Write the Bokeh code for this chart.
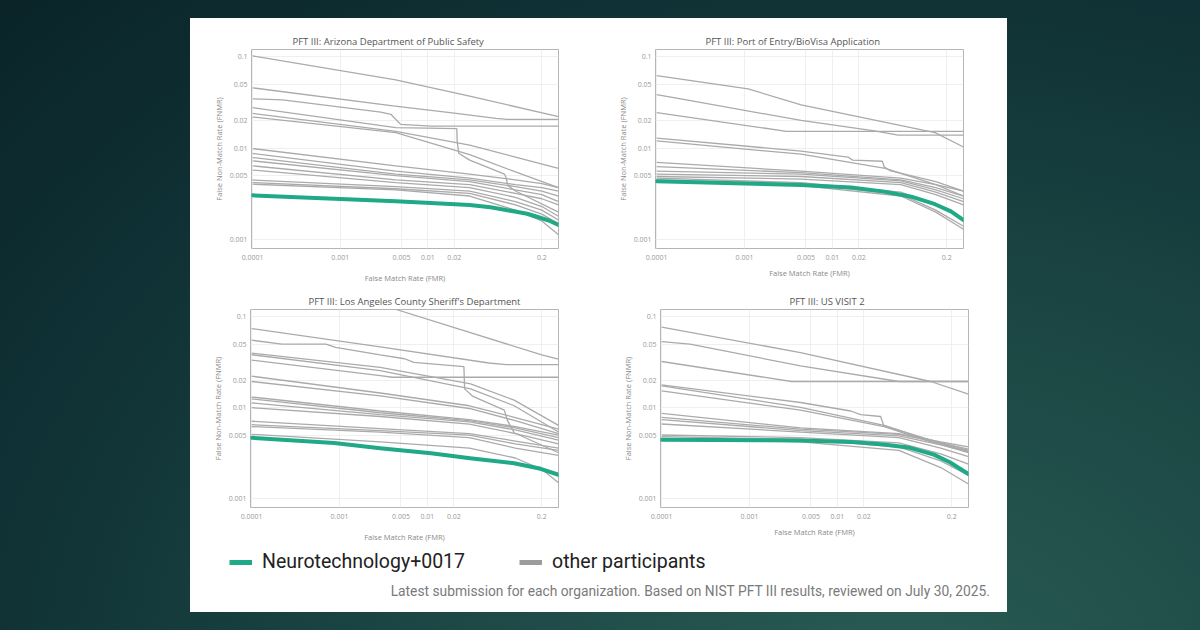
import numpy as np
from bokeh.plotting import figure
from bokeh.layouts import column, row
from bokeh.models import (Range1d, FixedTicker, CustomJSTickFormatter, Spacer,
                          Legend, LegendItem, Label)
from bokeh.embed import file_html
from bokeh.resources import INLINE

# ---------------- data ----------------
X_TICKS = [1e-4, 1e-3, 5e-3, 0.01, 0.02, 0.2]
X_LABELS = ["0.0001", "0.001", "0.005", "0.01", "0.02", "0.2"]
Y_TICKS = [0.001, 0.005, 0.01, 0.02, 0.05, 0.1]
Y_LABELS = ["0.001", "0.005", "0.01", "0.02", "0.05", "0.1"]
X_TITLE = "False Match Rate (FMR)"
Y_TITLE = "False Non-Match Rate (FNMR)"
LEGEND_LABELS = ["Neurotechnology+0017", "other participants"]
FOOTNOTE = ("Latest submission for each organization. Based on NIST PFT III results, "
            "reviewed on July 30, 2025.")

TITLES = ["PFT III: Arizona Department of Public Safety",
          "PFT III: Port of Entry/BioVisa Application",
          "PFT III: Los Angeles County Sheriff's Department",
          "PFT III: US VISIT 2"]

# each curve: list of (FMR, FNMR) points
AZ_NEURO = [(1e-4, 0.00305), (0.0043, 0.00263), (0.0108, 0.00252), (0.03, 0.00239),
            (0.052, 0.00226), (0.095, 0.00204), (0.136, 0.00192), (0.176, 0.00178),
            (0.24, 0.00162), (0.31, 0.00145)]
AZ_OTHERS = [
    [(1e-4, 0.102), (0.0043, 0.0558), (0.03, 0.037), (0.31, 0.0222)],
    [(1e-4, 0.0457), (0.004, 0.029), (0.02, 0.0242), (0.06, 0.0212), (0.08, 0.0207), (0.31, 0.0207)],
    [(1e-4, 0.0347), (2.2e-4, 0.0338), (0.0029, 0.0248), (0.0038, 0.0234), (0.0049, 0.0182),
     (0.011, 0.0174), (0.31, 0.0174)],
    [(1e-4, 0.0277), (0.0043, 0.0168), (0.0214, 0.0164), (0.0216, 0.012), (0.0225, 0.0088),
     (0.03, 0.0074), (0.075, 0.0052), (0.078, 0.0048), (0.082, 0.0039), (0.1, 0.0034), (0.31, 0.0020)],
    [(1e-4, 0.024), (0.0043, 0.0153), (0.03, 0.0108), (0.1, 0.008), (0.31, 0.006)],
    [(1e-4, 0.0219), (0.0043, 0.0148), (0.03, 0.0085), (0.1, 0.0055), (0.31, 0.0037)],
    [(1e-4, 0.0099), (0.0043, 0.0064), (0.03, 0.0052), (0.1, 0.0045), (0.2, 0.0041), (0.31, 0.0037)],
    [(1e-4, 0.00875), (0.0043, 0.0056), (0.03, 0.0047), (0.1, 0.0040), (0.2, 0.0037), (0.31, 0.0034)],
    [(1e-4, 0.0079), (0.0043, 0.0052), (0.03, 0.0045), (0.1, 0.0038), (0.2, 0.0034), (0.31, 0.0030)],
    [(1e-4, 0.00727), (0.0043, 0.0050), (0.03, 0.0043), (0.1, 0.0035), (0.2, 0.0031), (0.31, 0.0026)],
    [(1e-4, 0.00641), (0.0043, 0.0045), (0.03, 0.0040), (0.1, 0.0032), (0.2, 0.0028), (0.31, 0.0024)],
    [(1e-4, 0.00576), (0.0043, 0.0042), (0.03, 0.0037), (0.1, 0.0029), (0.2, 0.0023), (0.31, 0.0018)],
    [(1e-4, 0.00449), (0.0043, 0.0038), (0.03, 0.0034), (0.1, 0.0026), (0.2, 0.0021), (0.31, 0.00164)],
    [(1e-4, 0.00421), (0.0043, 0.0036), (0.03, 0.0032), (0.1, 0.0024), (0.2, 0.0019), (0.31, 0.0015)],
    [(1e-4, 0.00404), (0.0043, 0.0035), (0.03, 0.0030), (0.1, 0.0021), (0.2, 0.0016), (0.31, 0.00113)],
]

POE_NEURO = [(1e-4, 0.00435), (0.0044, 0.00396), (0.0164, 0.00371), (0.039, 0.00335),
             (0.079, 0.00295), (0.147, 0.00244), (0.223, 0.00204), (0.31, 0.00164)]
POE_OTHERS = [
    [(1e-4, 0.0622), (0.0011, 0.0445), (0.0044, 0.0298), (0.147, 0.0148), (0.31, 0.0103)],
    [(1e-4, 0.0386), (2.1e-4, 0.034), (0.0044, 0.0201), (0.03, 0.0155), (0.056, 0.0139), (0.31, 0.0139)],
    [(1e-4, 0.0245), (0.003, 0.0153), (0.31, 0.0153)],
    [(1e-4, 0.0129), (0.0044, 0.0093), (0.015, 0.0080), (0.017, 0.0074), (0.037, 0.0072),
     (0.039, 0.0062), (0.045, 0.0057), (0.15, 0.0043), (0.31, 0.0034)],
    [(1e-4, 0.0120), (0.0044, 0.0086), (0.04, 0.0060), (0.15, 0.0040), (0.31, 0.0030)],
    [(1e-4, 0.0070), (0.0044, 0.0056), (0.06, 0.0047), (0.15, 0.0040), (0.31, 0.0034)],
    [(1e-4, 0.0063), (0.0044, 0.0054), (0.06, 0.0045), (0.15, 0.0037), (0.31, 0.0030)],
    [(1e-4, 0.0056), (0.0044, 0.0052), (0.06, 0.0044), (0.15, 0.0035), (0.31, 0.0028)],
    [(1e-4, 0.0052), (0.0044, 0.0049), (0.06, 0.0042), (0.15, 0.0033), (0.31, 0.0026)],
    [(1e-4, 0.0049), (0.0044, 0.0046), (0.06, 0.0040), (0.15, 0.0031), (0.31, 0.0024)],
    [(1e-4, 0.0047), (0.0044, 0.0042), (0.06, 0.0033), (0.15, 0.0024), (0.31, 0.0017)],
    [(1e-4, 0.0045), (0.0044, 0.0041), (0.06, 0.0031), (0.15, 0.0021), (0.31, 0.0014)],
    [(1e-4, 0.0044), (0.0044, 0.0039), (0.06, 0.0030), (0.15, 0.0020), (0.31, 0.0013)],
]

LA_NEURO = [(1e-4, 0.00467), (8.7e-4, 0.0041), (0.0029, 0.00358), (0.011, 0.00315),
            (0.0305, 0.00278), (0.097, 0.00245), (0.194, 0.00213), (0.31, 0.00183)]
LA_OTHERS = [
    [(1e-4, 0.37), (0.0044, 0.12), (0.2, 0.038), (0.31, 0.0342)],
    [(1e-4, 0.074), (0.0029, 0.0467), (0.05, 0.031), (0.079, 0.0297), (0.31, 0.0297)],
    [(1e-4, 0.0552), (2.2e-4, 0.050), (7e-4, 0.050), (9e-4, 0.046), (0.0029, 0.038),
     (0.0055, 0.0345), (0.007, 0.0315), (0.026, 0.0283), (0.0265, 0.0161), (0.033, 0.0133),
     (0.075, 0.0094), (0.081, 0.0073), (0.097, 0.0053), (0.31, 0.0032)],
    [(1e-4, 0.0398), (0.0029, 0.0278), (0.031, 0.0183), (0.097, 0.0121), (0.31, 0.0064)],
    [(1e-4, 0.0382), (0.0029, 0.0256), (0.031, 0.0161), (0.097, 0.0105), (0.31, 0.0054)],
    [(1e-4, 0.0334), (0.0029, 0.0225), (0.004, 0.0216), (0.31, 0.0216)],
    [(1e-4, 0.0222), (0.0029, 0.0145), (0.03, 0.0105), (0.1, 0.0078), (0.31, 0.0058)],
    [(1e-4, 0.0194), (0.0029, 0.0135), (0.03, 0.0098), (0.1, 0.0072), (0.31, 0.0052)],
    [(1e-4, 0.0131), (0.0029, 0.0092), (0.03, 0.0074), (0.1, 0.0062), (0.31, 0.0050)],
    [(1e-4, 0.0125), (0.0029, 0.0088), (0.03, 0.0072), (0.1, 0.0060), (0.31, 0.0047)],
    [(1e-4, 0.0113), (0.0029, 0.0084), (0.03, 0.0070), (0.1, 0.0057), (0.31, 0.0044)],
    [(1e-4, 0.0100), (0.0029, 0.0080), (0.03, 0.0066), (0.1, 0.0052), (0.31, 0.0040)],
    [(1e-4, 0.0071), (0.0029, 0.0059), (0.03, 0.0052), (0.1, 0.0043), (0.31, 0.0036)],
    [(1e-4, 0.0065), (0.0029, 0.0056), (0.03, 0.0050), (0.1, 0.0040), (0.31, 0.0034)],
    [(1e-4, 0.0062), (0.0029, 0.0054), (0.03, 0.0047), (0.1, 0.0036), (0.31, 0.0030)],
    [(1e-4, 0.0051), (0.0029, 0.0042), (0.03, 0.0036), (0.1, 0.0028), (0.2, 0.0021), (0.31, 0.0015)],
]

USV_NEURO = [(1e-4, 0.00445), (0.0038, 0.00435), (0.0142, 0.00421), (0.0336, 0.00393),
             (0.067, 0.00362), (0.125, 0.00305), (0.19, 0.00251), (0.31, 0.00187)]
USV_OTHERS = [
    [(1e-4, 0.077), (0.0038, 0.0403), (0.115, 0.0194), (0.31, 0.0141)],
    [(1e-4, 0.0532), (2.1e-4, 0.050), (0.0038, 0.0288), (0.05, 0.0194), (0.31, 0.0194)],
    [(1e-4, 0.0322), (0.003, 0.0194), (0.31, 0.0194)],
    [(1e-4, 0.0178), (0.0038, 0.0114), (0.0142, 0.0092), (0.0184, 0.0084), (0.031, 0.0080),
     (0.0336, 0.0064), (0.1, 0.0046), (0.31, 0.0034)],
    [(1e-4, 0.0174), (0.0038, 0.0101), (0.034, 0.0064), (0.1, 0.0045), (0.31, 0.0033)],
    [(1e-4, 0.0153), (0.0038, 0.0094), (0.034, 0.0062), (0.1, 0.0044), (0.31, 0.0032)],
    [(1e-4, 0.00868), (0.0038, 0.0060), (0.05, 0.0052), (0.15, 0.0042), (0.31, 0.0037)],
    [(1e-4, 0.00784), (0.0038, 0.0058), (0.05, 0.0051), (0.15, 0.0041), (0.31, 0.0035)],
    [(1e-4, 0.00739), (0.0038, 0.0056), (0.05, 0.0049), (0.15, 0.0039), (0.31, 0.0033)],
    [(1e-4, 0.00662), (0.0038, 0.0054), (0.05, 0.0047), (0.15, 0.0036), (0.31, 0.0029)],
    [(1e-4, 0.00501), (0.0038, 0.0047), (0.05, 0.0041), (0.15, 0.0031), (0.31, 0.0024)],
    [(1e-4, 0.0048), (0.0038, 0.0045), (0.05, 0.0037), (0.15, 0.0026), (0.31, 0.0018)],
    [(1e-4, 0.00461), (0.0038, 0.0042), (0.05, 0.0034), (0.15, 0.0022), (0.31, 0.00145)],
]

# ---------------- style ----------------
GREEN = "#1fa986"
GREY = "#aaaaaa"
FONT = "Open Sans"
GRADIENT = ("radial-gradient(ellipse at 75% 110%, #2a5c55 0%, #1b4643 40%, #0f3034 75%, #0a2428 100%)")


def log_formatter(tvals, tlabs):
    return CustomJSTickFormatter(args=dict(tvals=tvals, tlabs=tlabs), code="""
        for (let i = 0; i < tvals.length; i++) {
            if (Math.abs(Math.log10(tick) - Math.log10(tvals[i])) < 1e-6) { return tlabs[i]; }
        }
        return "";
    """)


def make_panel(title, neuro, others, width, height, bl, br, bt, bb, title_offset, xstand):
    p = figure(width=width, height=height, x_axis_type="log", y_axis_type="log",
               x_range=Range1d(0.97e-4, 0.31), y_range=Range1d(0.0008, 0.12),
               output_backend="svg", toolbar_location=None,
               min_border_left=bl, min_border_right=br, min_border_top=bt, min_border_bottom=bb,
               background_fill_color="white", border_fill_color="white",
               outline_line_color="#b5b5b5", outline_line_width=1, title=title)
    p.title.align = "left"
    p.title.offset = title_offset
    p.title.text_font = FONT
    p.title.text_font_size = "9.5px"
    p.title.text_font_style = "normal"
    p.title.text_color = "#555555"
    p.title.standoff = 3

    p.xaxis.ticker = FixedTicker(ticks=X_TICKS, minor_ticks=[])
    p.yaxis.ticker = FixedTicker(ticks=Y_TICKS, minor_ticks=[])
    p.xaxis.formatter = log_formatter(X_TICKS, X_LABELS)
    p.yaxis.formatter = log_formatter(Y_TICKS, Y_LABELS)
    p.xaxis.axis_label = X_TITLE
    p.yaxis.axis_label = Y_TITLE
    for ax in (p.xaxis, p.yaxis):
        ax.axis_line_color = None
        ax.major_tick_line_color = None
        ax.minor_tick_line_color = None
        ax.major_tick_out = 0
        ax.major_tick_in = 0
        ax.minor_tick_out = 0
        ax.minor_tick_in = 0
        ax.major_label_text_font = FONT
        ax.major_label_text_font_size = "7px"
        ax.major_label_text_color = "#999999"
        ax.axis_label_text_font = FONT
        ax.axis_label_text_font_size = "7.5px"
        ax.axis_label_text_font_style = "normal"
        ax.axis_label_text_color = "#8a8a8a"
    p.xaxis.major_label_standoff = 6
    p.yaxis.major_label_standoff = 4
    p.xaxis.axis_label_standoff = xstand
    p.yaxis.axis_label_standoff = 3
    p.grid.grid_line_color = "#efefef"
    p.grid.grid_line_width = 1

    xs = [[pt[0] for pt in c] for c in others]
    ys = [[pt[1] for pt in c] for c in others]
    p.multi_line(xs, ys, line_color=GREY, line_width=1.3)
    p.line([pt[0] for pt in neuro], [pt[1] for pt in neuro], line_color=GREEN, line_width=4,
           line_join="round", line_cap="round")
    return p


p1 = make_panel(TITLES[0], AZ_NEURO, AZ_OTHERS, 410, 267, 61, 42, 31, 36, 41, 10)
p2 = make_panel(TITLES[1], POE_NEURO, POE_OTHERS, 407, 267, 55, 44, 31, 36, 50, 5)
p3 = make_panel(TITLES[2], LA_NEURO, LA_OTHERS, 410, 260, 60, 42, 22, 38, 58, 10)
p4 = make_panel(TITLES[3], USV_NEURO, USV_OTHERS, 407, 260, 60, 39, 24, 36, 129, 5)

# legend / footnote strip
leg = figure(width=817, height=67, x_range=Range1d(0, 1), y_range=Range1d(0, 1),
             output_backend="svg", toolbar_location=None, min_border=0,
             outline_line_color=None, background_fill_color="white", border_fill_color="white")
leg.axis.visible = False
leg.grid.visible = False
# legend-only renderers (a single missing value, so nothing is drawn in the plot area)
r_green = leg.line(np.array([np.nan]), np.array([np.nan]), line_color=GREEN, line_width=5)
r_grey = leg.line(np.array([np.nan]), np.array([np.nan]), line_color="#9c9c9c", line_width=5)
legend = Legend(items=[LegendItem(label=LEGEND_LABELS[0], renderers=[r_green]),
                       LegendItem(label=LEGEND_LABELS[1], renderers=[r_grey])],
                orientation="horizontal", location=(39, 39), padding=0, margin=0,
                spacing=54, glyph_width=23, glyph_height=20, label_standoff=10,
                label_text_font="Roboto", label_text_font_size="19.5px",
                label_text_color="#222222", border_line_color=None,
                background_fill_alpha=0)
leg.add_layout(legend)
leg.add_layout(Label(x=800, y=22, x_units="screen", y_units="screen", text=FOOTNOTE,
                     text_align="right", text_baseline="middle", text_font="Roboto",
                     text_font_size="13.8px", text_color="#7a7a7a"))

card = column(row(p1, p2, spacing=0), row(p3, p4, spacing=0), leg, spacing=0,
              styles={"background-color": "#ffffff"})
page = row(Spacer(width=190, height=630),
           column(Spacer(width=817, height=18), card, spacing=0),
           spacing=0, width=1200, height=630,
           styles={"background": GRADIENT})

open("out.html", "w").write(file_html(page, INLINE))
